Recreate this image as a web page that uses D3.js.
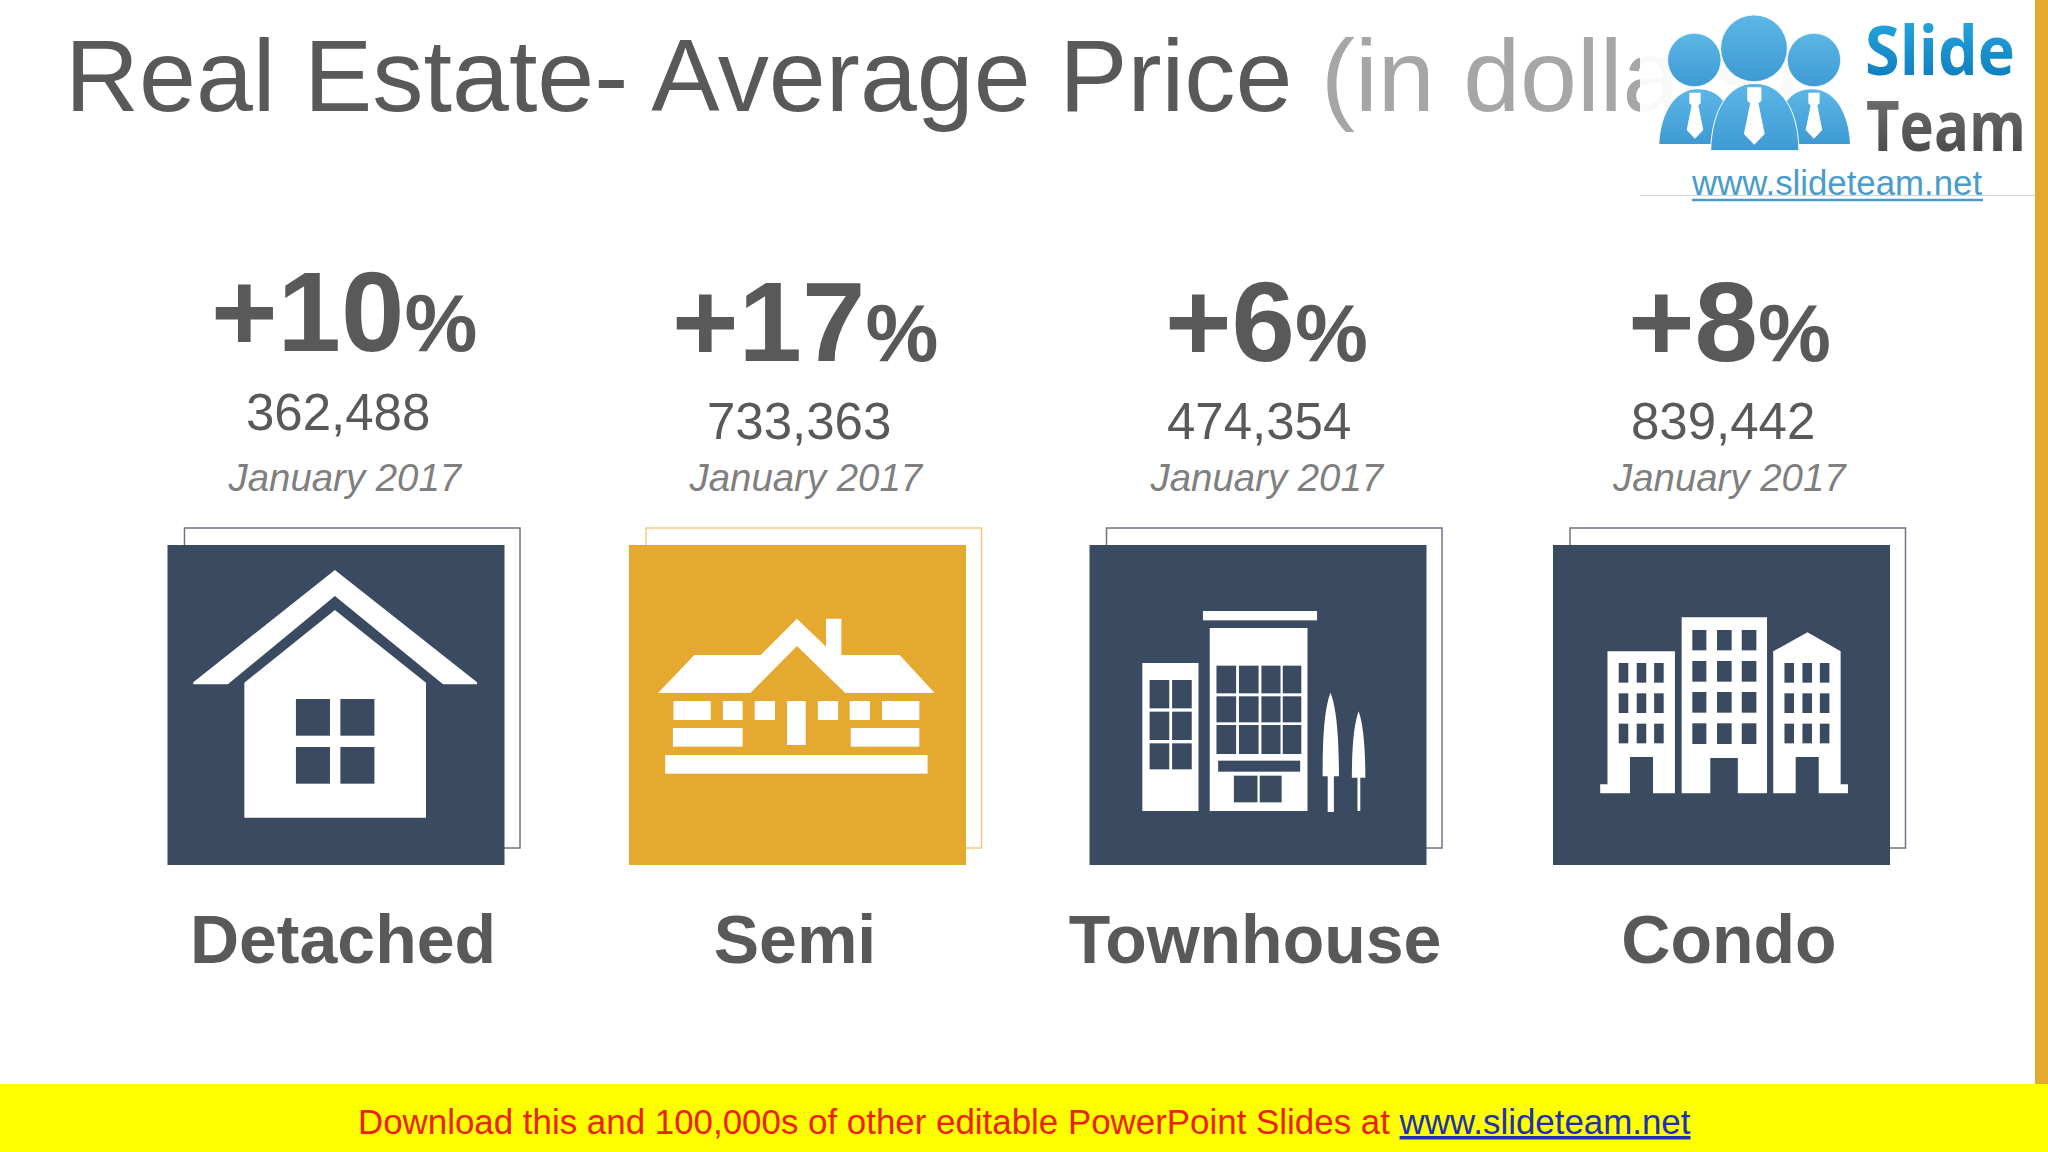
<!DOCTYPE html>
<html><head><meta charset="utf-8">
<script src="https://cdn.jsdelivr.net/npm/d3@7/dist/d3.min.js"></script>
<style>html,body{margin:0;padding:0;background:#fff;overflow:hidden}svg{display:block}text{font-family:"Liberation Sans",Arial,sans-serif}</style>
</head><body><div id="c"></div>
<script>
// ---- data
const categories = ["Detached","Semi","Townhouse","Condo"];
const changes = ["+10","+17","+6","+8"];
const prices = ["362,488","733,363","474,354","839,442"];
const dates = ["January 2017","January 2017","January 2017","January 2017"];
const tones = ["navy","gold","navy","navy"];

const W=2048,H=1152;
const svg=d3.select("#c").append("svg").attr("width",W).attr("height",H).attr("viewBox",[0,0,W,H]);
const defs=svg.append("defs");
function grad(id,stops){const g=defs.append("linearGradient").attr("id",id).attr("gradientUnits","objectBoundingBox").attr("x1",0).attr("x2",0).attr("y1",0).attr("y2",1);
 stops.forEach(([o,c])=>g.append("stop").attr("offset",o).attr("stop-color",c));}
grad("gSlide",[[0,"#2cb0e6"],[1,"#0a74b4"]]);
grad("gTeam",[[0,"#7a7a7a"],[1,"#404040"]]);
grad("gPerson",[[0,"#5cb6e6"],[1,"#3f9ad4"]]);

// ---- scales
const cardX=d3.scaleOrdinal().domain(categories).range([167.5,629,1089.5,1553]);
const statX=d3.scaleOrdinal().domain(categories).range([211,672,1165,1628]);
const statY=d3.scaleOrdinal().domain(categories).range([351,361,361,361]);
const priceX=d3.scaleOrdinal().domain(categories).range([246,707,1167,1631]);
const priceY=d3.scaleOrdinal().domain(categories).range([430,439,439,439]);
const dateX=d3.scaleOrdinal().domain(categories).range([228.5,689.5,1150.5,1613]);
const labelMid=d3.scaleOrdinal().domain(categories).range([343,795,1255,1729]);
const fill={navy:"#3a4a60",gold:"#e6a930"}, edge={navy:"#6d7683",gold:"#efcb80"};
const cardW=337,cardH=320,cardTop=545,off=17;

// ---- frame
svg.append("rect").attr("x",W-13).attr("y",0).attr("width",13).attr("height",1084).attr("fill","#e6a930");
svg.append("rect").attr("x",0).attr("y",1084).attr("width",W).attr("height",68).attr("fill","#ffff00");
const foot=svg.append("text").attr("x",358).attr("y",1134).attr("font-size",34.9).attr("fill","#ec2208");
foot.append("tspan").text("Download this and 100,000s of other editable PowerPoint Slides at ");
foot.append("tspan").attr("fill","#2030b0").attr("text-decoration","underline").text("www.slideteam.net");

// ---- title
const title=svg.append("text").attr("x",65).attr("y",111).attr("font-size",102.4);
title.append("tspan").attr("fill","#595959").text("Real Estate- Average Price ");
title.append("tspan").attr("fill","#a6a6a6").text("(in dollars)");

// ---- icons: shapes in local icon units
function rects(xs,ys){const o=[];ys.forEach(y=>xs.forEach(x=>o.push([x[0],y[0],x[1]-x[0],y[1]-y[0]])));return o;}
const icons={
 Detached:{ox:50,oy:135,sx:1.822,white:[
   "M355,210L614,547V553H552L355,288L160,553H97V547Z",
   "M355,330L521,548V953H190V548Z"],
  whiteR:[],
  dark:rects([[284,346],[365,427]],[[597,707],[741,851]])},
 Semi:{ox:891,oy:135,sx:1.822,white:[
   "M1197,356L1250,440V356H1278V465H1384L1448,579H1285L1197,438L1112,579H944L1010,465H1131Z"],
  whiteR:[[972,603,68,57],[1062,603,36,57],[1120,603,37,57],[1235,603,37,57],[1293,603,37,57],[1352,603,68,57],
          [1179,603,34,132],[971,684,127,56],[1295,684,125,56],[957,765,478,56]],
  dark:[]},
 Townhouse:{ox:53,oy:135,sx:1.78,white:[
   "M482,578C492,620 497,700 497,829H488V936H477V829H468C468,700 472,620 482,578Z",
   "M532,634C540,670 544,740 544,833H535V933H530V833H520C520,740 524,670 532,634Z"],
  whiteR:[[255,333,203,28],[267,384,174,549],[147,489,100,444]],
  dark:[...rects([[279,314],[319,354],[359,393],[397,430]],[[497,580],[589,667],[675,762]]),
        ...rects([[160,195],[200,235]],[[540,625],[635,720],[730,808]]),
        [282,782,146,33],[310,827,42,80],[356,827,39,80]]},
 Condo:{ox:878,oy:135,sx:1.78,white:[
   "M975,454H1095V880H1056V771H1015V880H962V853H975Z",
   "M1107,352H1259V880H1207V774H1158V880H1107Z",
   "M1331,397L1390,454V853H1403V880H1351V771H1310V880H1270V454Z"],
  whiteR:[],
  dark:[...rects([[995,1012],[1027,1044],[1058,1075]],[[489,548],[580,639],[671,730]]),
        ...rects([[1126,1151],[1170,1196],[1214,1240]],[[390,451],[483,545],[576,638],[670,732]]),
        ...rects([[1290,1307],[1322,1339],[1353,1370]],[[489,548],[580,639],[671,730]])]}
};

// ---- cards
const rows=categories.map((c,i)=>({c,change:changes[i],price:prices[i],date:dates[i],tone:tones[i]}));
const g=svg.selectAll("g.card").data(rows).join("g").attr("class","card");
g.append("rect").attr("x",d=>cardX(d.c)+off).attr("y",cardTop-off).attr("width",cardW-1.5).attr("height",cardH)
 .attr("fill","#fff").attr("stroke",d=>edge[d.tone]).attr("stroke-width",1.5);
g.append("rect").attr("x",d=>cardX(d.c)).attr("y",cardTop).attr("width",cardW).attr("height",cardH)
 .attr("fill",d=>fill[d.tone]);
g.each(function(d){
 const ic=icons[d.c], k=d3.select(this).append("g")
  .attr("transform",`translate(${cardX(d.c)-ic.ox/ic.sx},${cardTop-ic.oy/3}) scale(${1/ic.sx},${1/3})`);
 k.selectAll("path").data(ic.white).join("path").attr("d",p=>p).attr("fill","#fff");
 k.selectAll("rect.w").data(ic.whiteR).join("rect").attr("class","w").attr("x",r=>r[0]).attr("y",r=>r[1]).attr("width",r=>r[2]).attr("height",r=>r[3]).attr("fill","#fff");
 k.selectAll("rect.d").data(ic.dark).join("rect").attr("class","d").attr("x",r=>r[0]).attr("y",r=>r[1]).attr("width",r=>r[2]).attr("height",r=>r[3]).attr("fill",fill[d.tone]);
});
const stat=g.append("text").attr("x",d=>statX(d.c)).attr("y",d=>statY(d.c)).attr("font-weight",700).attr("fill","#595959");
stat.append("tspan").attr("font-size",114).text(d=>d.change);
stat.append("tspan").attr("font-size",82).text("%");
g.append("text").attr("x",d=>priceX(d.c)).attr("y",d=>priceY(d.c)).attr("font-size",51).attr("fill","#595959").text(d=>d.price);
g.append("text").attr("x",d=>dateX(d.c)).attr("y",491).attr("font-size",38.4).attr("font-style","italic").attr("fill","#7f7f7f").text(d=>d.date);
g.append("text").attr("x",d=>labelMid(d.c)).attr("y",963).attr("text-anchor","middle").attr("font-size",68).attr("font-weight",700).attr("fill","#595959").text(d=>d.c);

// ---- logo
svg.append("rect").attr("x",1640).attr("y",0).attr("width",395).attr("height",195).attr("fill","#fff").attr("fill-opacity",0.93);
svg.append("line").attr("x1",1640).attr("x2",2035).attr("y1",195.5).attr("y2",195.5).attr("stroke","#d4d4d4").attr("stroke-width",1);
const lg=svg.append("g").attr("transform","translate(1600,0) scale(0.3333)");
const pf="url(#gPerson)";
lg.append("path").attr("d","M178,432C182,340 225,268 292,268C335,268 360,285 380,320L380,432Z").attr("fill",pf);
lg.append("path").attr("d","M750,432C746,340 705,268 636,268C595,268 570,285 550,320L550,432Z").attr("fill",pf);
lg.append("path").attr("d","M332,452C335,330 385,250 464,250C545,250 595,330 597,452Z").attr("fill",pf).attr("stroke","#fff").attr("stroke-width",3);
[[283,180,80],[642,180,80],[462,145,100]].forEach(([x,y,r])=>lg.append("circle").attr("cx",x).attr("cy",y).attr("r",r).attr("fill",pf).attr("stroke","#fff").attr("stroke-width",2));
[[285,1],[463,1.25],[642,1]].forEach(([x,s])=>{
 lg.append("path").attr("transform",`translate(${x},${s>1?262:278}) scale(${s})`).attr("d","M-17,0H17V32L10,38L25,112L0,138L-25,112L-10,38L-17,32Z").attr("fill","#fff");
});
svg.append("text").attr("x",1865).attr("y",75).attr("font-size",68).attr("font-weight",700).attr("fill","url(#gSlide)").style("font-family","'Open Sans'").attr("textLength",150).attr("lengthAdjust","spacingAndGlyphs").text("Slide");
svg.append("text").attr("x",1866).attr("y",151).attr("font-size",70).attr("font-weight",700).attr("fill","url(#gTeam)").style("font-family","'Open Sans'").attr("textLength",160).attr("lengthAdjust","spacingAndGlyphs").text("Team");
svg.append("text").attr("x",1692).attr("y",195).attr("font-size",34.8).attr("fill","#4a9ccb").text("www.slideteam.net");
svg.append("line").attr("x1",1692).attr("x2",1983).attr("y1",200).attr("y2",200).attr("stroke","#4a9ccb").attr("stroke-width",2.5);
</script></body></html>
